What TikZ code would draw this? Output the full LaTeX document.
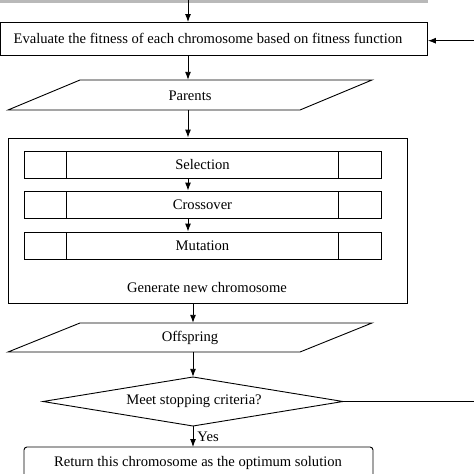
\documentclass[tikz,border=0pt]{standalone}
\usepackage{fontspec}
\setmainfont{Liberation Serif}
\usetikzlibrary{arrows.meta}
\begin{document}
\begin{tikzpicture}[x=1pt,y=-1pt,
  every node/.style={font=\fontsize{14.6}{17}\selectfont, inner sep=0pt},
  ln/.style={line width=0.9pt},
  arr/.style={ln,-{Latex[length=8pt,width=6pt]}},
  box/.style={draw, ln, rectangle, anchor=center},
  txt/.style={anchor=center}]
\useasboundingbox (0,0) rectangle (474,474);
% top gray bar (bottom of previous box)
\fill[gray!55] (0,0) rectangle (428,3);
\coordinate (topin) at (188,0);
% evaluate box
\node[box, minimum width=427pt, minimum height=33pt] (eval) at (214,38.5) {};
\node[txt] (evalt) at (208,38.5) {Evaluate the fitness of each chromosome based on fitness function};
% parents parallelogram
\draw[ln] (80,80) -- (372,80) -- (300,110) -- (8,110) -- cycle;
\node[minimum width=200pt, minimum height=30pt] (par) at (188,95) {};
\node[txt] (part) at (190,95.5) {Parents};
% big box
\node[box, minimum width=399pt, minimum height=165pt] (big) at (207.5,220.5) {};
% inner boxes
\node[box, minimum width=357pt, minimum height=27pt] (sel) at (202.5,164.5) {};
\node[box, minimum width=357pt, minimum height=27pt] (cro) at (202.5,204.5) {};
\node[box, minimum width=357pt, minimum height=27pt] (mut) at (202.5,245.5) {};
\foreach \n in {sel,cro,mut}{
  \draw[ln] ([xshift=43pt]\n.south west) -- ([xshift=43pt]\n.north west);
  \draw[ln] ([xshift=-43pt]\n.south east) -- ([xshift=-43pt]\n.north east);
}
\node[txt] (selt) at (202.5,165) {Selection};
\node[txt] (crot) at (202.5,205) {Crossover};
\node[txt] (mutt) at (202.5,246) {Mutation};
\node[txt] (gen) at (207,288) {Generate new chromosome};
% offspring parallelogram
\draw[ln] (80,323) -- (372,323) -- (300,352) -- (8,352) -- cycle;
\node[minimum width=200pt, minimum height=29pt] (off) at (193,337.5) {};
\node[txt] (offt) at (190,337.5) {Offspring};
% diamond
\draw[ln] (193,377) -- (343,401.5) -- (193,426) -- (43,401.5) -- cycle;
\node[minimum width=200pt, minimum height=49pt] (dia) at (193,401.5) {};
\node[txt] (diat) at (194,401.5) {Meet stopping criteria?};
\coordinate (diaR) at (343,401.5);
\coordinate (rightout) at (474,401.5);
% return box
\draw[ln, rounded corners=3pt] (24,480) -- (24,447) -- (373,447) -- (373,480);
\node[minimum width=349pt, minimum height=20pt, anchor=north] (ret) at (198.5,447) {};
\node[txt] (rett) at (198,463) {Return this chromosome as the optimum solution};
% connectors
\draw[arr] (topin) -- (188,22);
\draw[arr] (188,55) -- (par.north);
\draw[arr] (par.south) -- ([xshift=-19.5pt]big.north);
\draw[arr] ([xshift=-14.5pt]sel.south) -- ([xshift=-14.5pt]cro.north);
\draw[arr] ([xshift=-14.5pt]cro.south) -- ([xshift=-14.5pt]mut.north);
\draw[arr] ([xshift=-14.5pt]big.south) -- (off.north);
\draw[arr] (off.south) -- (dia.north);
\draw[arr] (dia.south) -- node[right=4pt, txt, anchor=west] (yes) {Yes} (dia.south |- ret.north);
\draw[ln] (diaR) -- (rightout);
\coordinate (rightin) at (474,40.7);
\draw[arr] (rightin) -- (eval.east |- rightin);
\end{tikzpicture}
\end{document}
